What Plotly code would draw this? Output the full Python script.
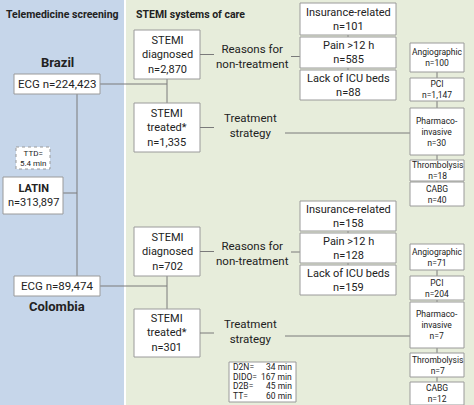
import plotly.graph_objects as go

FONT = "Roboto, Liberation Sans, sans-serif"
countries = ["Brazil", "Colombia"]
ecg_n = ["224,423", "89,474"]
diagnosed_n = ["2,870", "702"]
treated_n = ["1,335", "301"]
reasons = ["Insurance-related", "Pain >12 h", "Lack of ICU beds"]
reasons_n = [["101", "585", "88"], ["158", "128", "159"]]
strategies = ["Angiographic", "PCI", "Pharmaco-<br>invasive", "Thrombolysis", "CABG"]
strategy_n = [["100", "1,147", "30", "18", "40"], ["71", "204", "7", "7", "12"]]
latin_n = "313,897"
ttd = "5.4 min"
times_lbl = ["D2N=", "DIDO=", "D2B=", "TT="]
times_val = ["34 min", "167 min", "45 min", "60 min"]

fig = go.Figure()
shapes, ann = [], []
LC = "#7a7a7a"

def box(x0, y0, x1, y1, text, size=11, dash=None):
    shapes.append(dict(type="rect", x0=x0, y0=y0, x1=x1, y1=y1, fillcolor="white",
                       line=dict(color="#9a9a9a", width=1, dash=dash)))
    ann.append(dict(x=(x0+x1)/2, y=(y0+y1)/2, text=text, showarrow=False,
                    font=dict(size=size, family=FONT, color="#222")))

def line(x0, y0, x1, y1):
    shapes.append(dict(type="line", x0=x0, y0=y0, x1=x1, y1=y1, line=dict(color=LC, width=1)))

def text(x, y, t, size=11, bold=False):
    if bold:
        t = "<b>" + t + "</b>"
    ann.append(dict(x=x, y=y, text=t, showarrow=False, font=dict(size=size, family=FONT, color="#222")))

shapes.append(dict(type="rect", x0=0, y0=0, x1=124, y1=405, fillcolor="#c6d6ea", line=dict(width=0), layer="below"))
shapes.append(dict(type="rect", x0=126, y0=0, x1=474, y1=405, fillcolor="#e7eddb", line=dict(width=0), layer="below"))
text(62, 14, "Telemedicine screening", 10.5, True)
text(190, 14, "STEMI systems of care", 10.5, True)

line(77, 88, 77, 286)
line(63, 193, 77, 193)
box(3, 177, 63, 214, "<b>LATIN</b><br>n=" + latin_n, 11)
box(16, 147, 50, 169, "TTD=<br>" + ttd, 8, dash="dot")

layout_y = [dict(ecg=84, diag=(30, 79), treat=(103, 152), reas=[(3, 35), (37, 68), (70, 100)],
                 strat=[(43, 72), (78, 101), (108, 155), (160, 181), (182, 206)], stl=133),
            dict(ecg=286, diag=(227, 276), treat=(309, 357), reas=[(201, 231), (233, 263), (265, 295)],
                 strat=[(244, 270), (276, 300), (302, 348), (353, 377), (382, 405)], stl=336)]

for i, L in enumerate(layout_y):
    text(57, 62 if i == 0 else 306, countries[i], 13, True)
    line(100, L["ecg"], 167, L["ecg"])
    line(167, L["diag"][1], 167, L["treat"][0])
    box(14, L["ecg"]-10, 100, L["ecg"]+10, "ECG n=" + ecg_n[i], 11.5)
    box(134, L["diag"][0], 200, L["diag"][1], "STEMI<br>diagnosed<br>n=" + diagnosed_n[i], 11)
    box(134, L["treat"][0], 200, L["treat"][1], "STEMI<br>treated*<br>n=" + treated_n[i], 11)
    ym = (L["diag"][0]+L["diag"][1])/2
    line(200, ym, 214, ym)
    text(252, ym+2, "Reasons for<br>non-treatment", 11.5)
    ry = (L["reas"][1][0]+L["reas"][1][1])/2 + 4
    line(291, ry, 300, ry)
    line(348, L["reas"][0][0], 348, L["reas"][-1][1])
    for (a, b), r, n in zip(L["reas"], reasons, reasons_n[i]):
        box(300, a, 396, b, r + "<br>n=" + n, 11)
    ty = (L["treat"][0]+L["treat"][1])/2
    line(200, ty, 214, ty)
    text(250, ty-2, "Treatment<br>strategy", 11.5)
    line(285, L["stl"], 410, L["stl"])
    line(437, L["strat"][0][0], 437, L["strat"][-1][1])
    for (a, b), s, n in zip(L["strat"], strategies, strategy_n[i]):
        box(410, a, 464, b, s + "<br>n=" + n, 8.5)

shapes.append(dict(type="rect", x0=229, y0=362, x1=296, y1=402, fillcolor="white",
                   line=dict(color="#9a9a9a", width=1)))
for k, (lb, v) in enumerate(zip(times_lbl, times_val)):
    ann.append(dict(x=231, y=367+k*9.5, text=lb, xanchor="left", showarrow=False,
                    font=dict(size=8.5, family=FONT, color="#222")))
    ann.append(dict(x=294, y=367+k*9.5, text=v, xanchor="right", showarrow=False,
                    font=dict(size=8.5, family=FONT, color="#222")))

fig.update_layout(width=474, height=405, margin=dict(l=0, r=0, t=0, b=0),
                  plot_bgcolor="white", paper_bgcolor="white", shapes=shapes, annotations=ann,
                  xaxis=dict(range=[0, 474], visible=False, fixedrange=True),
                  yaxis=dict(range=[405, 0], visible=False, fixedrange=True), showlegend=False)
fig.write_html("out.html", config={"displayModeBar": False})
with open("out.html", encoding="utf-8") as f:
    html = f.read()
html = html.replace("<head>", "<head><style>html,body{margin:0;padding:0;overflow:hidden}</style>", 1)
with open("out.html", "w", encoding="utf-8") as f:
    f.write(html)
